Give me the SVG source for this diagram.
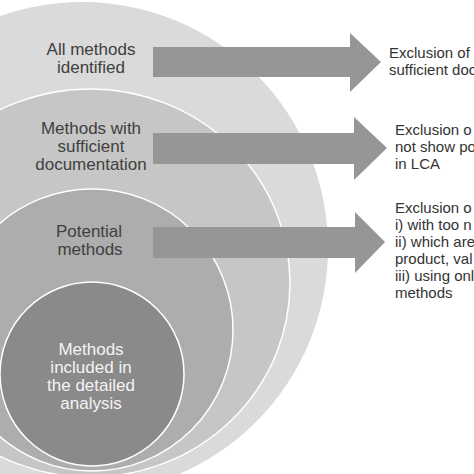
<svg xmlns="http://www.w3.org/2000/svg" width="474" height="474" viewBox="0 0 474 474">
  <style>
    .ring { stroke: #ffffff; stroke-width: 1.5; }
    .lbl { font-family: "Liberation Sans", Arial, sans-serif; font-size: 17px; fill: #404040; text-anchor: middle; }
    .lbl-w { font-family: "Liberation Sans", Arial, sans-serif; font-size: 17px; fill: #f4f4f4; text-anchor: middle; }
    .ex { font-family: "Liberation Sans", Arial, sans-serif; font-size: 15px; fill: #333333; }
    .arrow { fill: #969696; }
  </style>
  <rect width="474" height="474" fill="#ffffff"/>
  <g id="node-all">
    <circle cx="82" cy="248" r="246" fill="#dadada"/>
    <text class="lbl" x="91" y="55">All methods</text>
    <text class="lbl" x="91" y="73">identified</text>
  </g>
  <g id="node-sufficient">
    <ellipse class="ring" cx="90" cy="283" rx="200" ry="194" fill="#c6c6c6"/>
    <text class="lbl" x="91" y="134">Methods with</text>
    <text class="lbl" x="91" y="152">sufficient</text>
    <text class="lbl" x="91" y="170">documentation</text>
  </g>
  <g id="node-potential">
    <circle class="ring" cx="92" cy="330" r="141" fill="#adadad"/>
    <text class="lbl" x="89" y="237">Potential</text>
    <text class="lbl" x="90" y="255">methods</text>
  </g>
  <g id="node-included">
    <circle class="ring" cx="92" cy="374" r="92" fill="#8a8a8a"/>
    <text class="lbl-w" x="91" y="355">Methods</text>
    <text class="lbl-w" x="91" y="373">included in</text>
    <text class="lbl-w" x="91" y="391">the detailed</text>
    <text class="lbl-w" x="91" y="409">analysis</text>
  </g>
  <g id="connectors">
    <polygon class="arrow" points="153,47 350,47 350,33 381,62 350,92 350,77 153,77"/>
    <polygon class="arrow" points="153,133 354,133 354,117 387,148 354,180 354,164 153,164"/>
    <polygon class="arrow" points="153,227 355,227 355,212 385,242 355,273 355,258 153,258"/>
  </g>
  <g id="exclusion-1">
    <text class="ex" x="389" y="58">Exclusion of</text>
    <text class="ex" x="389" y="75">sufficient doc</text>
  </g>
  <g id="exclusion-2">
    <text class="ex" x="395" y="135">Exclusion o</text>
    <text class="ex" x="395" y="152">not show po</text>
    <text class="ex" x="395" y="169">in LCA</text>
  </g>
  <g id="exclusion-3">
    <text class="ex" x="395" y="213">Exclusion o</text>
    <text class="ex" x="395" y="230">i) with too n</text>
    <text class="ex" x="395" y="247">ii) which are</text>
    <text class="ex" x="395" y="264">product, val</text>
    <text class="ex" x="395" y="281">iii) using onl</text>
    <text class="ex" x="395" y="298">methods</text>
  </g>
</svg>
